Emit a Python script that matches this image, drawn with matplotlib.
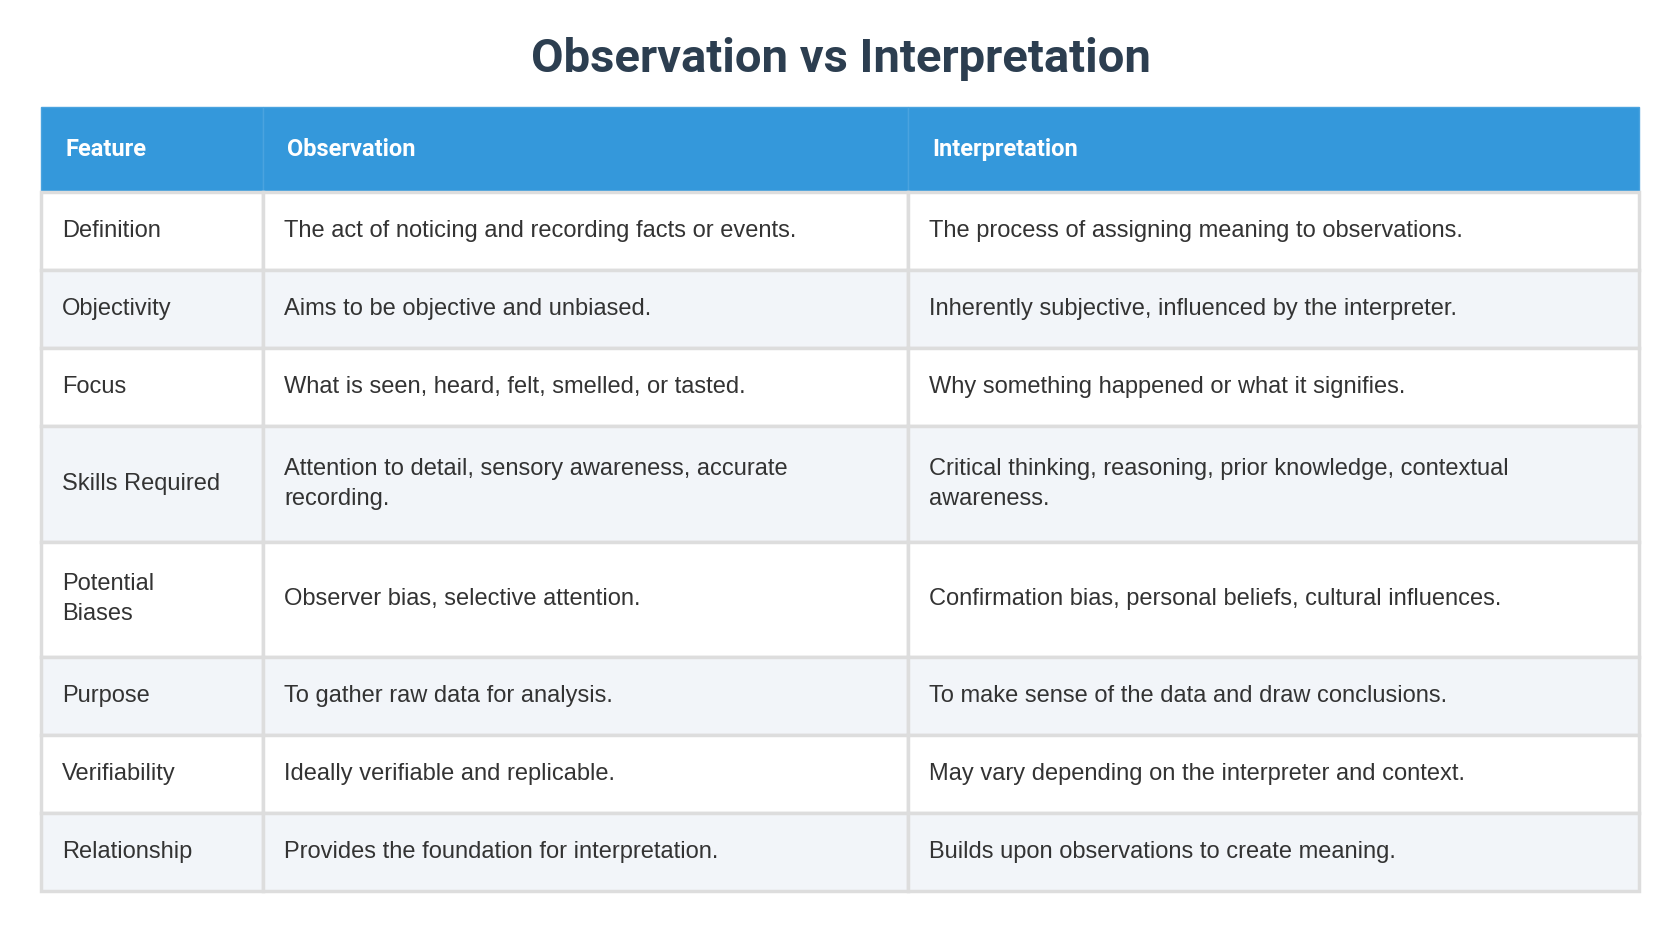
import matplotlib
matplotlib.use("Agg")
import matplotlib.pyplot as plt
from matplotlib.patches import Rectangle

title = "Observation vs Interpretation"
headers = ["Feature", "Observation", "Interpretation"]
features = ["Definition", "Objectivity", "Focus", "Skills Required", "Potential\nBiases",
            "Purpose", "Verifiability", "Relationship"]
observation = [
    "The act of noticing and recording facts or events.",
    "Aims to be objective and unbiased.",
    "What is seen, heard, felt, smelled, or tasted.",
    "Attention to detail, sensory awareness, accurate\nrecording.",
    "Observer bias, selective attention.",
    "To gather raw data for analysis.",
    "Ideally verifiable and replicable.",
    "Provides the foundation for interpretation.",
]
interpretation = [
    "The process of assigning meaning to observations.",
    "Inherently subjective, influenced by the interpreter.",
    "Why something happened or what it signifies.",
    "Critical thinking, reasoning, prior knowledge, contextual\nawareness.",
    "Confirmation bias, personal beliefs, cultural influences.",
    "To make sense of the data and draw conclusions.",
    "May vary depending on the interpreter and context.",
    "Builds upon observations to create meaning.",
]

W, H = 1568, 872
col_x = [38, 245, 847, 1530]
row_y = [100, 179, 252, 325, 398, 506, 613, 686, 759, 832]

fig = plt.figure(figsize=(16.8, 9.34), dpi=100)
ax = fig.add_axes([0, 0, 1, 1])
ax.set_xlim(0, W)
ax.set_ylim(H, 0)
ax.axis("off")

ax.text(W / 2 + 1, 55, title, ha="center", va="center", fontsize=34,
        fontweight="bold", family="Roboto", color="#2c3e50")

# header
for c in range(3):
    ax.add_patch(Rectangle((col_x[c], row_y[0]), col_x[c + 1] - col_x[c], row_y[1] - row_y[0],
                           facecolor="#3498db", edgecolor="#4aa3df", lw=1))
    ax.text(col_x[c] + 23, (row_y[0] + row_y[1]) / 2, headers[c], ha="left", va="center",
            fontsize=17, fontweight="bold", family="Roboto", color="white")

rows = list(zip(features, observation, interpretation))
for r, cells in enumerate(rows):
    y0, y1 = row_y[r + 1], row_y[r + 2]
    bg = "white" if r % 2 == 0 else "#f2f5f9"
    for c in range(3):
        ax.add_patch(Rectangle((col_x[c], y0), col_x[c + 1] - col_x[c], y1 - y0,
                               facecolor=bg, edgecolor="#dddddd", lw=2.5))
        ax.text(col_x[c] + 20, (y0 + y1) / 2, cells[c], ha="left", va="center",
                fontsize=17, family="Liberation Sans", color="#333333", linespacing=1.45)

fig.savefig("out.png", dpi=100, facecolor="white")
